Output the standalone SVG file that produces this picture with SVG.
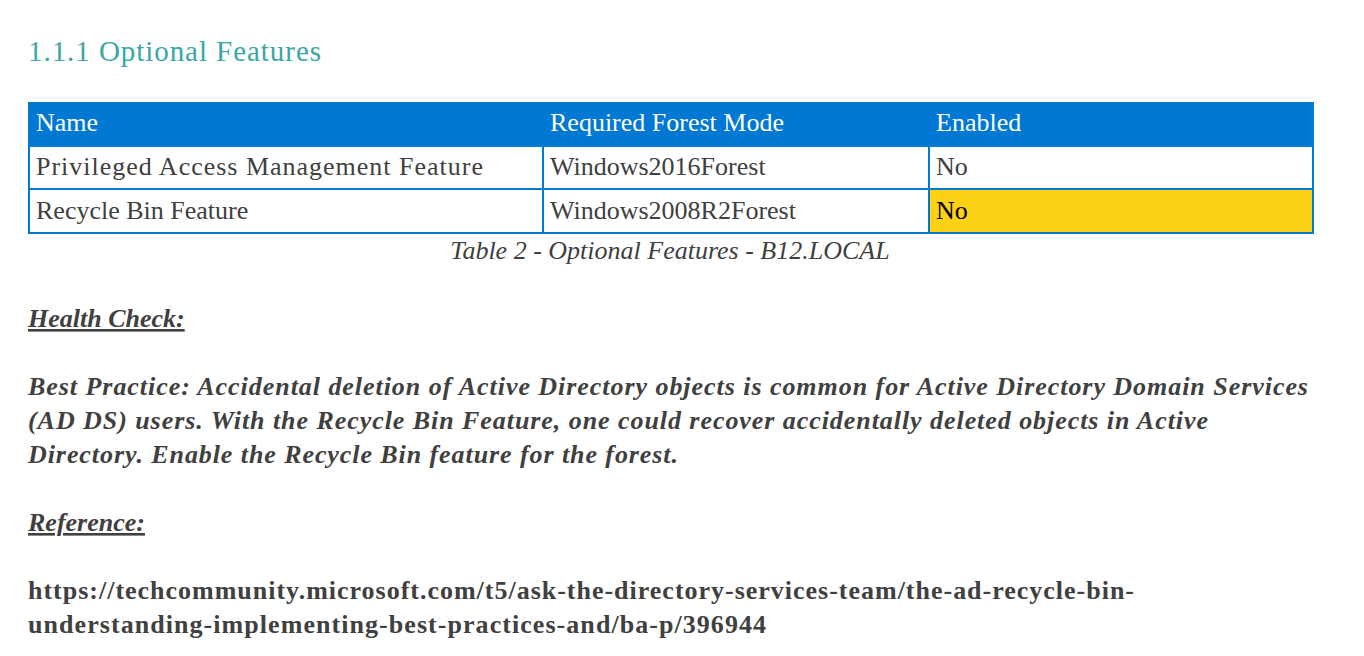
<svg xmlns="http://www.w3.org/2000/svg" width="1364" height="656" viewBox="0 0 1364 656">
<style>
.t{font-family:"Liberation Serif",serif;font-size:26px;fill:#404040}
.h{fill:#fff}
.b{font-weight:bold;font-style:italic}
.u{text-decoration:underline}
.l{font-weight:bold}
</style>
<rect width="1364" height="656" fill="#fff"/>
<text x="28" y="61" class="t" style="font-size:29px;fill:#3aa6a6" textLength="293">1.1.1 Optional Features</text>
<g id="table">
<rect x="29" y="103" width="1284" height="43" fill="#0078d4"/>
<rect x="929" y="189" width="384" height="44" fill="#fcd116"/>
<g fill="none" stroke="#0078d4" stroke-width="2">
<rect x="29" y="103" width="1284" height="130"/>
<line x1="29" y1="146" x2="1313" y2="146"/>
<line x1="29" y1="189" x2="1313" y2="189"/>
<line x1="543" y1="146" x2="543" y2="233"/>
<line x1="929" y1="146" x2="929" y2="233"/>
</g>
<text x="36" y="131" class="t h">Name</text>
<text x="550" y="131" class="t h">Required Forest Mode</text>
<text x="936" y="131" class="t h">Enabled</text>
<text x="36" y="175" class="t" textLength="447">Privileged Access Management Feature</text>
<text x="550" y="175" class="t">Windows2016Forest</text>
<text x="936" y="175" class="t">No</text>
<text x="36" y="219" class="t">Recycle Bin Feature</text>
<text x="550" y="219" class="t">Windows2008R2Forest</text>
<text x="936" y="219" class="t" style="fill:#000">No</text>
<text x="670" y="259" class="t" style="font-style:italic" text-anchor="middle">Table 2 - Optional Features - B12.LOCAL</text>
</g>
<text x="28" y="327" class="t b u">Health Check:</text>
<text x="28" y="395" class="t b" textLength="1280">Best Practice: Accidental deletion of Active Directory objects is common for Active Directory Domain Services</text>
<text x="28" y="429" class="t b" textLength="1180">(AD DS) users. With the Recycle Bin Feature, one could recover accidentally deleted objects in Active</text>
<text x="28" y="463" class="t b" textLength="650">Directory. Enable the Recycle Bin feature for the forest.</text>
<text x="28" y="531" class="t b u">Reference:</text>
<text x="28" y="599" class="t l" textLength="1106">https://techcommunity.microsoft.com/t5/ask-the-directory-services-team/the-ad-recycle-bin-</text>
<text x="28" y="633" class="t l" textLength="738">understanding-implementing-best-practices-and/ba-p/396944</text>
</svg>
